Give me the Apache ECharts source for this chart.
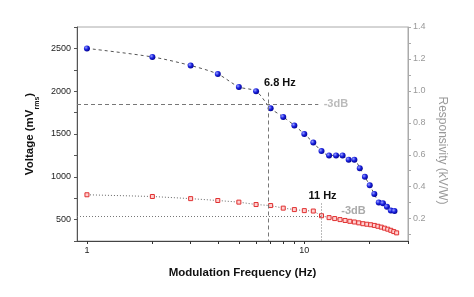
<!DOCTYPE html>
<html>
<head>
<meta charset="utf-8">
<script src="https://cdn.jsdelivr.net/npm/echarts@6/dist/echarts.min.js"></script>
<style>
  html, body { margin: 0; padding: 0; background: #fff; }
  #main { width: 474px; height: 297px; }
</style>
</head>
<body>
<div id="main"></div>
<script>
// blue: voltage vs modulation frequency
var freqV = [1, 2, 3, 4, 5, 6, 7, 8, 9, 10, 11, 12, 13, 14, 15, 16, 17, 18, 19, 20, 21, 22, 23, 24, 25, 26];
var voltV = [2500, 2400, 2300, 2200, 2050, 2000, 1800, 1700, 1600, 1500, 1400, 1300, 1250, 1250, 1250, 1200, 1200, 1100, 1000, 900, 800, 700, 690, 650, 605, 600];
// red: second curve (plotted on the left scale)
var freqR = [1, 2, 3, 4, 5, 6, 7, 8, 9, 10, 11, 12, 13, 13.8, 14.6, 15.4, 16.2, 17, 17.8, 18.6, 19.4, 20.2, 21, 21.8, 22.6, 23.4, 24.2, 25, 25.8, 26.6];
var voltR = [790, 770, 745, 723, 704, 676, 664, 634, 617, 605, 600, 545, 523, 512, 500, 490, 480, 472, 462, 452, 446, 440, 432, 422, 412, 400, 388, 375, 360, 345];

var xLabels = [1, 10];
var xTicks = [1, 2, 3, 4, 5, 6, 7, 8, 9, 10, 20, 30];
var rightLabels = [0.2, 0.4, 0.6, 0.8, 1.0, 1.2, 1.4];
var rightTicks = [0.1, 0.2, 0.3, 0.4, 0.5, 0.6, 0.7, 0.8, 0.9, 1.0, 1.1, 1.2, 1.3, 1.4];

// -3dB markers
var cutV = { f: 6.8, v: 1845, top: 1985, lineEnd: 11.6 };
var cutR = { f: 12, v: 540, top: 688 };

var font = "'Liberation Sans', Arial, sans-serif";

function pairs(xs, ys) {
  return xs.map(function (x, i) { return [x, ys[i]]; });
}

var chart = echarts.init(document.getElementById('main'));

var option = {
  animation: false,
  textStyle: { fontFamily: font },
  grid: { left: 77, right: 66, top: 27, bottom: 56, show: true, borderColor: '#aaa', borderWidth: 1 },
  xAxis: {
    type: 'log', logBase: 10, min: 0.9, max: 30,
    name: 'Modulation Frequency (Hz)', nameLocation: 'middle', nameGap: 26,
    nameTextStyle: { fontSize: 11.5, fontWeight: 'bold', color: '#111', fontFamily: font },
    axisLine: { lineStyle: { color: '#444' } },
    axisTick: { inside: false, length: 3, lineStyle: { color: '#333' }, customValues: xTicks },
    axisLabel: { fontSize: 9, color: '#222', margin: 5, customValues: xLabels },
    splitLine: { show: false }
  },
  yAxis: [{
    type: 'value', min: 250, max: 2750, interval: 250,
    name: '{a|Voltage (mV}{b|rms}{a|)}', nameLocation: 'middle', nameGap: 38, nameRotate: 90,
    nameTextStyle: {
      rich: {
        a: { fontSize: 11.5, fontWeight: 'bold', color: '#111', fontFamily: font, verticalAlign: 'bottom', lineHeight: 14 },
        b: { fontSize: 7, fontWeight: 'bold', color: '#111', fontFamily: font, verticalAlign: 'bottom', padding: [0, 0, -4, 0] }
      }
    },
    axisLine: { show: true, lineStyle: { color: '#555' } },
    axisTick: { length: 3, lineStyle: { color: '#555' } },
    axisLabel: {
      fontSize: 9, color: '#222', margin: 6,
      formatter: function (v) { return v % 500 === 0 ? String(v) : ''; }
    },
    splitLine: { show: false }
  }, {
    type: 'value', min: 0.06, max: 1.4, position: 'right',
    name: 'Responsivity (kV/W)', nameLocation: 'middle', nameGap: 28, nameRotate: -90,
    nameTextStyle: { fontSize: 12, color: '#999', fontFamily: font, padding: [0, 0, 0, 33] },
    axisLine: { show: true, lineStyle: { color: '#aaa' } },
    axisTick: { length: 3, lineStyle: { color: '#aaa' }, customValues: rightTicks },
    axisLabel: {
      fontSize: 9, color: '#999', margin: 5, customValues: rightLabels,
      formatter: function (v) { return v.toFixed(1); }
    },
    splitLine: { show: false }
  }],
  series: [{
    name: 'voltage',
    type: 'line',
    yAxisIndex: 0,
    data: pairs(freqV, voltV),
    symbol: 'circle', symbolSize: 6,
    smooth: 0.3,
    lineStyle: { color: '#555', width: 1, type: [3, 3] },
    itemStyle: {
      color: new echarts.graphic.RadialGradient(0.35, 0.35, 0.7, [
        { offset: 0, color: '#9aa0ff' },
        { offset: 0.5, color: '#1a22e0' },
        { offset: 1, color: '#00008a' }
      ])
    },
    markLine: {
      silent: true, symbol: 'none', label: { show: false },
      lineStyle: { color: '#777', width: 1, type: [4, 3] },
      data: [
        [{ coord: [0.9, cutV.v] }, { coord: [cutV.lineEnd, cutV.v] }],
        [{ coord: [cutV.f, cutV.top] }, { coord: [cutV.f, 250] }]
      ]
    },
    markPoint: {
      silent: true, symbol: 'circle', symbolSize: 0,
      data: [{
        coord: [cutV.f, cutV.v],
        label: { show: true, position: 'inside', formatter: '6.8 Hz', offset: [12, -21], fontSize: 11, fontWeight: 'bold', color: '#111' }
      }, {
        coord: [cutV.f, cutV.v],
        label: { show: true, position: 'inside', formatter: '-3dB', offset: [68, 0], fontSize: 11, fontWeight: 'bold', color: '#bbb' }
      }]
    },
    z: 3
  }, {
    name: 'responsivity',
    type: 'line',
    yAxisIndex: 0,
    data: pairs(freqR, voltR),
    symbol: 'rect', symbolSize: 4,
    lineStyle: { color: '#666', width: 1, type: [1, 2] },
    itemStyle: { color: '#ffd0d0', borderColor: '#e03030', borderWidth: 1 },
    markLine: {
      silent: true, symbol: 'none', label: { show: false },
      lineStyle: { color: '#777', width: 1, type: [1, 2] },
      data: [
        [{ coord: [0.9, cutR.v] }, { coord: [cutR.f, cutR.v] }],
        [{ coord: [cutR.f, cutR.top] }, { coord: [cutR.f, 250] }]
      ]
    },
    markPoint: {
      silent: true, symbol: 'circle', symbolSize: 0,
      data: [{
        coord: [cutR.f, cutR.v],
        label: { show: true, position: 'inside', formatter: '11 Hz', offset: [1, -20], fontSize: 11, fontWeight: 'bold', color: '#111' }
      }, {
        coord: [cutR.f, cutR.v],
        label: { show: true, position: 'inside', formatter: '-3dB', offset: [32, -5], fontSize: 11, fontWeight: 'bold', color: '#aaa' }
      }]
    },
    z: 2
  }]
};

chart.setOption(option);
</script>
</body>
</html>
